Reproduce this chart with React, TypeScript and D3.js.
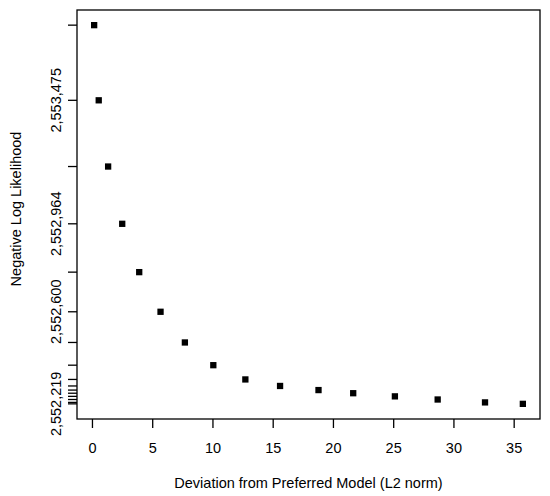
import React from "react";
import * as d3 from "d3";

const deviation = [0.14, 0.52, 1.3, 2.47, 3.88, 5.65, 7.67, 10.03, 12.69, 15.57, 18.76, 21.64, 25.1, 28.65, 32.58, 35.72];
const negLogLik = [2553786, 2553475, 2553201, 2552964, 2552764, 2552600, 2552473, 2552379, 2552320, 2552293, 2552276, 2552263, 2552250, 2552237, 2552225, 2552219];
const labelledTickIdx = [1, 3, 5, 15];
const xTicks = [0, 5, 10, 15, 20, 25, 30, 35];
const xTitle = "Deviation from Preferred Model (L2 norm)";
const yTitle = "Negative Log Likelihood";

const W = 550, H = 496;
const box = { left: 77, right: 540, top: 10, bottom: 419 };
const FONT = "'Liberation Sans', Arial, sans-serif";
const FS = 14.5;

function padded(ext: [number, number]): [number, number] {
  const r = ext[1] - ext[0];
  return [ext[0] - 0.04 * r, ext[1] + 0.04 * r];
}

export default function App() {
  const x = d3.scaleLinear().domain(padded(d3.extent(deviation) as [number, number])).range([box.left, box.right]);
  const y = d3.scaleLinear().domain(padded(d3.extent(negLogLik) as [number, number])).range([box.bottom, box.top]);
  const fmt = d3.format(",");
  const sq = 6.3;
  return (
    <svg width={W} height={H} style={{ position: "absolute", left: 0, top: 0, background: "#fff" }} fontFamily={FONT}>
      <rect x={box.left} y={box.top} width={box.right - box.left} height={box.bottom - box.top} fill="none" stroke="#000" strokeWidth={1.3} />
      {xTicks.map((t) => (
        <g key={t}>
          <line x1={x(t)} x2={x(t)} y1={box.bottom} y2={box.bottom + 9} stroke="#000" strokeWidth={1.3} />
          <text x={x(t)} y={452.5} textAnchor="middle" fontSize={FS} fill="#000">{t}</text>
        </g>
      ))}
      {negLogLik.map((v, i) => (
        <line key={i} x1={box.left} x2={box.left - 9} y1={y(v)} y2={y(v)} stroke="#000" strokeWidth={1.3} />
      ))}
      {labelledTickIdx.map((i) => (
        <text key={i} transform={`translate(60.5,${y(negLogLik[i])}) rotate(-90)`} textAnchor="middle" fontSize={FS} fill="#000">
          {fmt(negLogLik[i])}
        </text>
      ))}
      {deviation.map((d, i) => (
        <rect key={i} x={x(d) - sq / 2} y={y(negLogLik[i]) - sq / 2} width={sq} height={sq} fill="#000" />
      ))}
      <text x={(box.left + box.right) / 2} y={488} textAnchor="middle" fontSize={FS} fill="#000">{xTitle}</text>
      <text transform={`translate(21,209) rotate(-90)`} textAnchor="middle" fontSize={FS} fill="#000">{yTitle}</text>
    </svg>
  );
}
